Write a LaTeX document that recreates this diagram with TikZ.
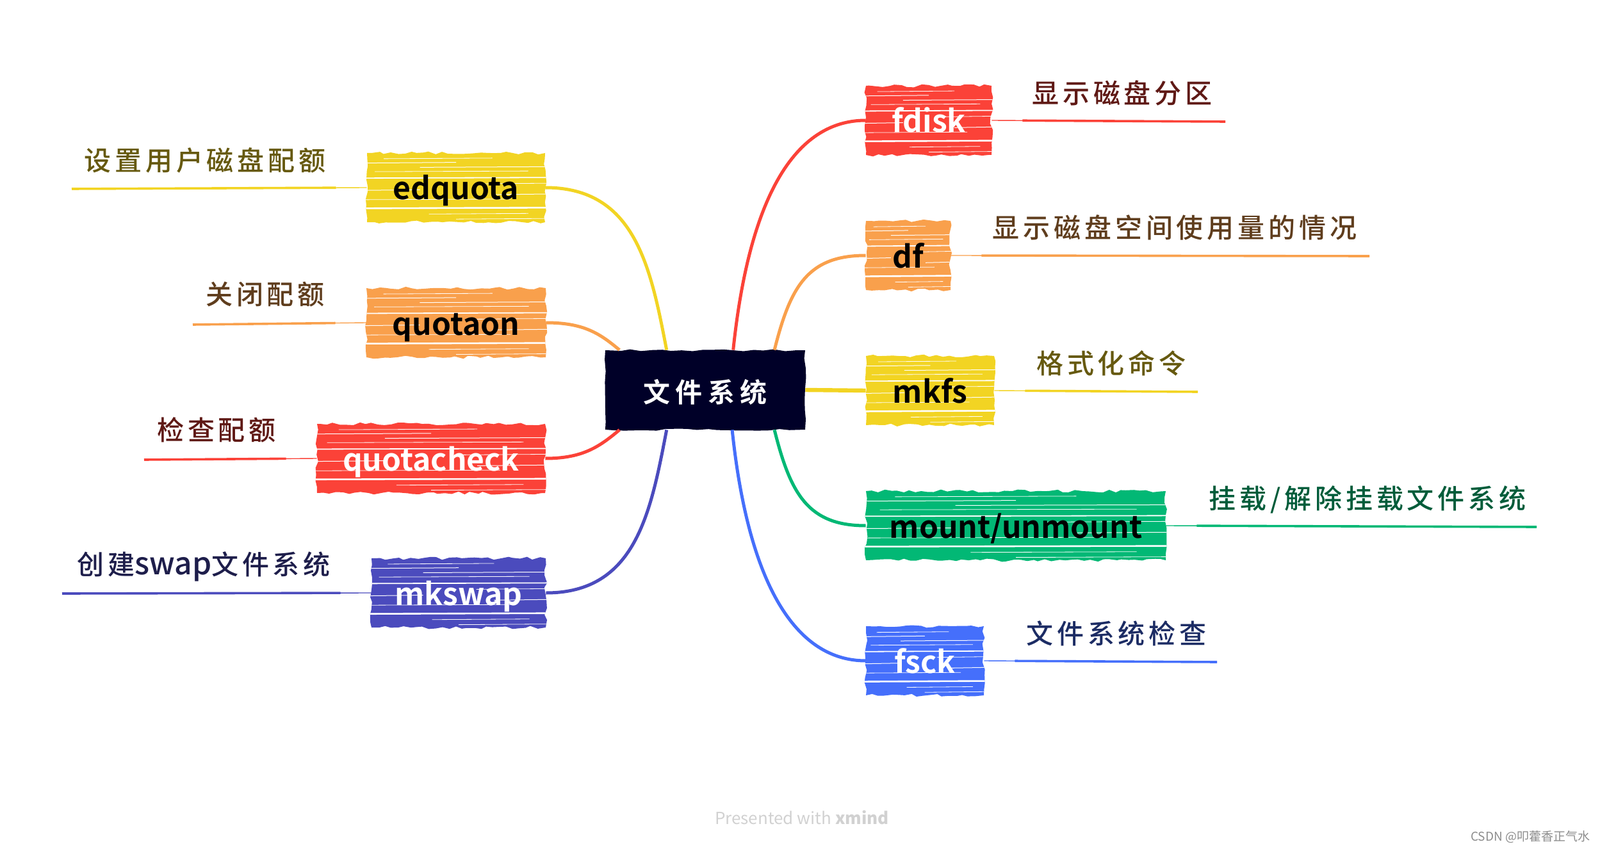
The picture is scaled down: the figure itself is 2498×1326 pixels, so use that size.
\documentclass[tikz,border=0pt]{standalone}
\usepackage{fontspec}
\setmainfont{Noto Sans CJK SC}
\newfontfamily\labelfont[LetterSpace=14]{Noto Sans CJK SC Medium}
\newfontfamily\mainfont[LetterSpace=20]{Noto Sans CJK SC Bold}
\newfontfamily\wordfont{Noto Sans CJK SC Bold}
\newfontfamily\latinfont{Noto Sans CJK SC Medium}
\usetikzlibrary{calc,decorations.pathmorphing}

\definecolor{cyellow}{HTML}{F2D423}
\definecolor{corange}{HTML}{F9A04C}
\definecolor{cred}{HTML}{FB4238}
\definecolor{cpurple}{HTML}{4B4BBD}
\definecolor{cgreen}{HTML}{02B875}
\definecolor{cblue}{HTML}{456FFB}
\definecolor{cnavy}{HTML}{000028}

\begin{document}
\begin{tikzpicture}
	[x=0.5pt,y=-0.5pt,
		scribble/.style		={rectangle, fill=#1, minimum height=54pt, inner sep=0pt,
									font=\wordfont\fontsize{24}{28}\selectfont,
									text height=19pt, text depth=0pt,
									decorate, decoration={random steps,segment length=5pt,amplitude=1.2pt},
									path picture={
										\path (path picture bounding box.south west) coordinate (sw)
											(path picture bounding box.north east) coordinate (ne);
										\foreach \f/\a/\b/\w in {.9/.1/.7/.4,.84/0/.5/.5,.78/.3/1/.5,.72/.05/.9/.4,.63/0/1/.9,
												.55/.6/1/.4,.46/0/.3/.5,.4/.7/1/.5,.33/0/.8/.4,.21/0/1/1.3,.13/.35/.9/.4,.06/.5/1/.4}
											\draw [white, line width=\w pt] let \p1=(sw),\p2=(ne) in
												({\x1+\a*(\x2-\x1)},{\y1+\f*(\y2-\y1)}) -- ({\x1+\b*(\x2-\x1)},{\y1+\f*(\y2-\y1)+.5pt});
									}},
		mainbox/.style		={rectangle, fill=cnavy, text=white, minimum width=156pt, minimum height=62pt,
									font=\mainfont\fontsize{21}{25}\selectfont,
									text height=19.2pt, text depth=0pt,
									decorate, decoration={random steps,segment length=8pt,amplitude=.8pt}},
		note/.style			={inner sep=0pt, font=\labelfont\fontsize{21}{25}\selectfont},
		branch/.style		={draw=#1, line width=2.5pt},
		thin line/.style	={draw=#1, line width=.7pt},
		thick line/.style	={draw=#1, line width=1.8pt}
	]
\useasboundingbox (0,0) rectangle (2498,1326);

% centre
\node [mainbox] (main) at (1101,609) {文件系统};

% left side
\node [scribble=cyellow, minimum width=139pt]					(edquota)		at (712,293)	{edquota};
\node [scribble=corange, minimum width=140pt]					(quotaon)		at (712,504)	{quotaon};
\node [scribble=cred, text=white, minimum width=178pt]			(quotacheck)	at (673,716)	{quotacheck};
\node [scribble=cpurple, text=white, minimum width=136pt]		(mkswap)		at (716,926)	{mkswap};

% right side
\node [scribble=cred, text=white, minimum width=98pt]			(fdisk)			at (1450,188)	{fdisk};
\node [scribble=corange, minimum width=66pt]					(df)			at (1418,399)	{df};
\node [scribble=cyellow, minimum width=100pt]					(mkfs)			at (1452,610)	{mkfs};
\node [scribble=cgreen, minimum width=234pt]					(mount)			at (1586,821)	{mount/unmount};
\node [scribble=cblue, text=white, minimum width=92pt]			(fsck)			at (1444,1032)	{fsck};

% labels
\node [note, text=cyellow!42!black]		(edquota text)		at (320,250)	{设置用户磁盘配额};
\node [note, text=corange!38!black]		(quotaon text)		at (414,460)	{关闭配额};
\node [note, text=cred!38!black]		(quotacheck text)	at (338,671)	{检查配额};
\node [note, text=cpurple!40!black]		(mkswap text)		at (318,885)	{创建{\latinfont\fontsize{24}{24}\selectfont swap}文件系统};
\node [note, text=cred!38!black]		(fdisk text)		at (1752,145)	{显示磁盘分区};
\node [note, text=corange!38!black]		(df text)			at (1834,355)	{显示磁盘空间使用量的情况};
\node [note, text=cyellow!42!black]		(mkfs text)			at (1735,567)	{格式化命令};
\node [note, text=cgreen!50!black]		(mount text)		at (2135,780)	{挂载/解除挂载文件系统};
\node [note, text=cblue!40!black]		(fsck text)			at (1743,989)	{文件系统检查};

% free ends of the underlines
\coordinate (edquota end)		at (112,295);
\coordinate (quotaon end)		at (301,507);
\coordinate (quotacheck end)	at (225,718);
\coordinate (mkswap end)		at (97,927);
\coordinate (fdisk end)			at (1913,190);
\coordinate (df end)			at (2138,400);
\coordinate (mkfs end)			at (1870,612);
\coordinate (mount end)			at (2399,823);
\coordinate (fsck end)			at (1900,1034);

% branches
\path [branch=cyellow]	(main.134)	.. controls +(-25,-130) and +(140,0) .. (edquota.east);
\path [branch=corange]	(main.155)	.. controls +(-30,-25) and +(60,0) .. (quotaon.east);
\path [branch=cred]		(main.205)	.. controls +(-30,25) and +(60,0) .. (quotacheck.east);
\path [branch=cpurple]	(main.226)	.. controls +(-25,130) and +(140,0) .. (mkswap.east);
\path [branch=cred]		(main.55)	.. controls +(25,-240) and +(-110,0) .. (fdisk.west);
\path [branch=corange]	(main.30)	.. controls +(25,-100) and +(-90,0) .. (df.west);
\path [branch=cyellow, line width=3.2pt]	(main.east)	-- (mkfs.west);
\path [branch=cgreen]	(main.-30)	.. controls +(25,100) and +(-90,0) .. (mount.west);
\path [branch=cblue]	(main.-56)	.. controls +(25,240) and +(-110,0) .. (fsck.west);

% underlines
\foreach \name/\col in {edquota/cyellow,quotaon/corange,quotacheck/cred,mkswap/cpurple}
{
	\path [thin line=\col]	(\name.west)	-- (\name\space end);
	\path [thick line=\col]	($(\name.west)!24pt!(\name\space end)$)	-- (\name\space end);
}
\foreach \name/\col in {fdisk/cred,df/corange,mkfs/cyellow,mount/cgreen,fsck/cblue}
{
	\path [thin line=\col]	(\name.east)	-- (\name\space end);
	\path [thick line=\col]	($(\name.east)!24pt!(\name\space end)$)	-- (\name\space end);
}

% footer
\node [inner sep=0pt, text=black!18, font=\fontsize{13}{15}\selectfont] (presented) at (1252,1277) {Presented with \textbf{xmind}};
\node [inner sep=0pt, text=black!45, font=\fontsize{9.5}{11}\selectfont] (csdn) at (2389,1307) {CSDN @叩藿香正气水};
\end{tikzpicture}
\end{document}
